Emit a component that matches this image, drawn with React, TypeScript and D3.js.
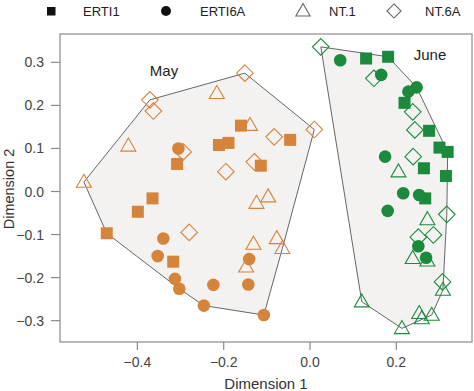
import React from "react";
import * as d3 from "d3";

// ---- data (Dimension 1, Dimension 2) ----
const mayERTI1: [number, number][] = [
  [-0.160, 0.153], [-0.211, 0.108], [-0.189, 0.113], [-0.046, 0.120], [-0.114, 0.060],
  [-0.308, 0.064], [-0.365, -0.016], [-0.399, -0.047], [-0.471, -0.097], [-0.317, -0.163],
];
const mayERTI6A: [number, number][] = [
  [-0.305, 0.100], [-0.340, -0.109], [-0.353, -0.150], [-0.313, -0.203], [-0.303, -0.226],
  [-0.246, -0.265], [-0.224, -0.217], [-0.141, -0.157], [-0.143, -0.216], [-0.107, -0.287],
];
const mayNT1: [number, number][] = [
  [-0.216, 0.228], [-0.421, 0.106], [-0.524, 0.022], [-0.139, 0.154], [-0.124, -0.027],
  [-0.097, -0.012], [-0.131, -0.122], [-0.077, -0.109], [-0.064, -0.132], [-0.148, -0.175],
];
const mayNT6A: [number, number][] = [
  [-0.371, 0.213], [-0.363, 0.187], [-0.151, 0.275], [0.010, 0.144], [-0.083, 0.127],
  [-0.129, 0.069], [-0.195, 0.046], [-0.294, 0.092], [-0.280, -0.095],
];
const junERTI1: [number, number][] = [
  [0.130, 0.309], [0.181, 0.313], [0.219, 0.206], [0.276, 0.141], [0.300, 0.102],
  [0.319, 0.092], [0.264, 0.054], [0.315, 0.036], [0.267, -0.016],
];
const junERTI6A: [number, number][] = [
  [0.070, 0.305], [0.165, 0.271], [0.247, 0.242], [0.228, 0.232], [0.174, 0.081],
  [0.216, -0.004], [0.253, -0.008], [0.180, -0.045], [0.251, -0.127], [0.269, -0.154],
];
const junNT1: [number, number][] = [
  [0.205, 0.046], [0.272, -0.065], [0.238, -0.155], [0.272, -0.161], [0.308, -0.229],
  [0.253, -0.283], [0.259, -0.295], [0.282, -0.287], [0.213, -0.318], [0.120, -0.256],
];
const junNT6A: [number, number][] = [
  [0.025, 0.336], [0.148, 0.263], [0.238, 0.185], [0.243, 0.143], [0.239, 0.081],
  [0.317, -0.053], [0.286, -0.101], [0.251, -0.106], [0.307, -0.210],
];

const xTicks = [-0.4, -0.2, 0.0, 0.2];
const yTicks = [-0.3, -0.2, -0.1, 0.0, 0.1, 0.2, 0.3];
const legendLabels = ["ERTI1", "ERTI6A", "NT.1", "NT.6A"];
const groupLabels = ["May", "June"];

const ORANGE = "#D5843B";
const GREEN = "#1B8A3C";
const FONT = "'Liberation Sans', Arial, sans-serif";

const W = 474, H = 391;
const L = 60, R = 472, T = 34, B = 342;

const x = d3.scaleLinear().domain([-0.5794, 0.3754]).range([L, R]);
const y = d3.scaleLinear().domain([-0.3496, 0.3659]).range([B, T]);

const fmt = (v: number) => (v < 0 ? "\u2212" : "") + Math.abs(v).toFixed(1);

type Shape = "square" | "circle" | "triangle" | "diamond";

function Marker({ shape, cx, cy, color, scale = 1 }: { shape: Shape; cx: number; cy: number; color: string; scale?: number }) {
  if (shape === "square") {
    const s = 12 * scale;
    return <rect x={cx - s / 2} y={cy - s / 2} width={s} height={s} fill={color} />;
  }
  if (shape === "circle") {
    return <circle cx={cx} cy={cy} r={6.3 * scale} fill={color} />;
  }
  if (shape === "triangle") {
    const w = 15 * scale, h = 13 * scale;
    const p = d3.path();
    p.moveTo(cx, cy - h * 0.6);
    p.lineTo(cx + w / 2, cy + h * 0.4);
    p.lineTo(cx - w / 2, cy + h * 0.4);
    p.closePath();
    return <path d={p.toString()} fill="none" stroke={color} strokeWidth={1.1} />;
  }
  const r = 8.3 * scale;
  const p = d3.path();
  p.moveTo(cx, cy - r);
  p.lineTo(cx + r, cy);
  p.lineTo(cx, cy + r);
  p.lineTo(cx - r, cy);
  p.closePath();
  return <path d={p.toString()} fill="none" stroke={color} strokeWidth={1.1} />;
}

const months = [
  { color: ORANGE, sets: [mayNT6A, mayNT1, mayERTI1, mayERTI6A] },
  { color: GREEN, sets: [junNT6A, junNT1, junERTI1, junERTI6A] },
];
const setShapes: Shape[] = ["diamond", "triangle", "square", "circle"];

export default function App() {
  return (
    <svg width={W} height={H} style={{ position: "absolute", left: 0, top: 0, background: "#fff" }} fontFamily={FONT}>
      {/* hulls */}
      {months.map((m, i) => {
        const pts = m.sets.flat().map((d) => [x(d[0]), y(d[1])] as [number, number]);
        const hull = d3.polygonHull(pts) || [];
        return (
          <path key={i} d={"M" + hull.map((p) => p.join(",")).join("L") + "Z"} fill="#F3F2F1" stroke="#666" strokeWidth={1} />
        );
      })}
      {/* points */}
      {months.map((m, i) =>
        m.sets.map((set, j) =>
          set.map((d, k) => (
            <Marker key={`${i}-${j}-${k}`} shape={setShapes[j]} cx={x(d[0])} cy={y(d[1])} color={m.color} />
          ))
        )
      )}
      {/* frame */}
      <rect x={L} y={T} width={R - L} height={B - T} fill="none" stroke="#8a8a8a" strokeWidth={1.2} />
      {/* x axis */}
      {xTicks.map((t) => (
        <g key={t}>
          <line x1={x(t)} x2={x(t)} y1={B} y2={B + 8} stroke="#8a8a8a" strokeWidth={1.2} />
          <text x={x(t)} y={367} textAnchor="middle" fontSize={14} fill="#444">{fmt(t)}</text>
        </g>
      ))}
      {/* y axis */}
      {yTicks.map((t) => (
        <g key={t}>
          <line x1={L - 9} x2={L} y1={y(t)} y2={y(t)} stroke="#8a8a8a" strokeWidth={1.2} />
          <text x={44} y={y(t) + 5} textAnchor="end" fontSize={14} fill="#444">{fmt(t)}</text>
        </g>
      ))}
      <text x={266} y={389} textAnchor="middle" fontSize={15} fill="#333">Dimension 1</text>
      <text transform="translate(14,189) rotate(-90)" textAnchor="middle" fontSize={14.5} fill="#333">Dimension 2</text>
      {/* group labels */}
      <text x={164} y={76} textAnchor="middle" fontSize={15} fill="#222">{groupLabels[0]}</text>
      <text x={430} y={60} textAnchor="middle" fontSize={15} fill="#222">{groupLabels[1]}</text>
      {/* legend */}
      <rect x={47} y={7} width={8.5} height={8.5} fill="#111" />
      <text x={83} y={16} fontSize={13} fill="#222">{legendLabels[0]}</text>
      <circle cx={166} cy={11} r={5} fill="#111" />
      <text x={200} y={16} fontSize={13} fill="#222">{legendLabels[1]}</text>
      <Marker shape="triangle" cx={303} cy={11} color="#666" scale={0.95} />
      <text x={329} y={16} fontSize={13} fill="#222">{legendLabels[2]}</text>
      <Marker shape="diamond" cx={394} cy={11} color="#666" scale={0.85} />
      <text x={425} y={16} fontSize={13} fill="#222">{legendLabels[3]}</text>
    </svg>
  );
}
